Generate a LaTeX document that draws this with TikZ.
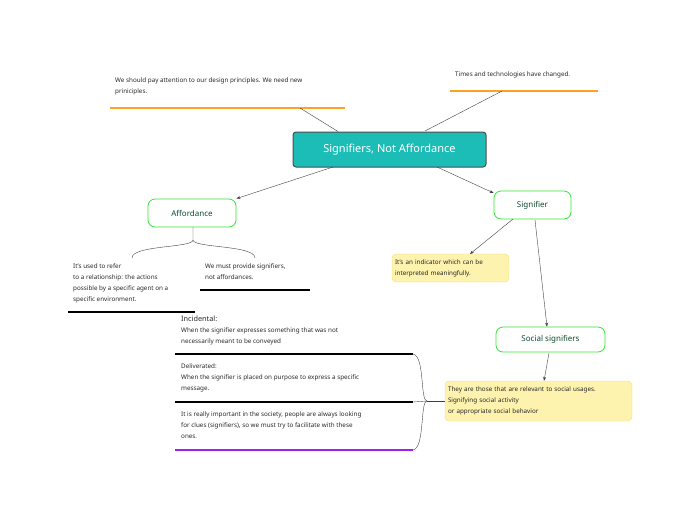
\documentclass[tikz,border=0pt]{standalone}
\usepackage{fontspec}
\setmainfont{Noto Sans}
\usetikzlibrary{arrows.meta}
\definecolor{teal1}{HTML}{1CBDB7}
\definecolor{dgreen}{HTML}{0D4A2E}
\definecolor{lgreen}{HTML}{33E633}
\definecolor{yel}{HTML}{FDF2AE}
\definecolor{yelb}{HTML}{F2DE80}
\definecolor{org}{HTML}{FFA21F}
\definecolor{purp}{HTML}{A020F0}
\begin{document}
\begin{tikzpicture}[x=1pt,y=-1pt,
 txt/.style={font=\fontsize{6.3}{11}\selectfont, align=left, anchor=north west, inner sep=0pt, text=black!85},
 topic/.style={draw=lgreen, line width=0.8pt, rounded corners=7pt, fill=white, text=dgreen, font=\fontsize{8}{10}\selectfont\bfseries, inner sep=0pt},
 callout/.style={fill=yel, draw=yelb, rounded corners=4pt, font=\fontsize{6.3}{11}\selectfont, align=left, inner sep=0pt, text=black!85},
 conn/.style={draw=black!75, line width=0.4pt},
 arr/.style={conn, -{Stealth[length=4pt,width=3pt]}}]
\useasboundingbox (0,0) rectangle (697,520);
% central
\node[fill=teal1, draw=black!70, line width=1pt, rounded corners=3pt, minimum width=193pt, minimum height=35pt, text=white, font=\fontsize{11}{13}\selectfont\bfseries] (c) at (389.5,149.5) {Signifiers, Not Affordance};
\node[topic, minimum width=88pt, minimum height=28pt] (aff) at (192,213) {Affordance};
\node[topic, minimum width=77pt, minimum height=28pt] (sig) at (532.5,205) {Signifier};
\node[topic, minimum width=109pt, minimum height=25pt] (soc) at (550.5,339.5) {Social signifiers};
% top texts
\node[txt] (tl) at (115,78) {We should pay attention to our design principles. We need new\\priniciples.};
\coordinate (tlA) at (110,108); \coordinate (tlB) at (345,108); \coordinate (tlC) at (300,108);
\draw[org, line width=1.2pt] (tlA) -- (tlB);
\draw[conn] (tlC) -- (c.north west -| 338,0);
\node[txt] (tr) at (455,72) {Times and technologies have changed.};
\coordinate (trA) at (450,91); \coordinate (trB) at (598,91); \coordinate (trC) at (502,91);
\draw[org, line width=1.2pt] (trA) -- (trB);
\draw[conn] (trC) -- (425,131);
% arrows from center
\draw[arr] (333,167) -- (aff.north east);
\draw[arr] (437,167) -- (sig.west |- 0,193);
% affordance brace
\coordinate (b0) at (193,227); \coordinate (bL) at (132,258); \coordinate (bR) at (255,258);
\draw[conn] (b0) -- (193,240) .. controls (193,248) and (132,245) .. (bL);
\draw[conn] (193,240) .. controls (193,248) and (255,245) .. (bR);
\node[txt] (al) at (73,263) {It's used to refer\\to a relationship: the actions\\possible by a specific agent on a\\specific environment.};
\draw[black, line width=1.2pt] (68,312) -- (195,312);
\node[txt] (ar) at (205,263) {We must provide signifiers,\\not affordances.};
\draw[black, line width=1.2pt] (200,290) -- (310,290);
% signifier children
\node[callout, minimum width=117pt, minimum height=28pt, text width=111pt] (ind) at (450.5,268) {It's an indicator which can be\\interpreted meaningfully.};
\draw[arr] (513,219) -- (470,254);
\draw[arr] (535,220) -- (soc.north -| 547,0);
\node[callout, minimum width=187pt, minimum height=40pt, text width=181pt] (they) at (538.5,401) {They are those that are relevant to social usages.\\Signifying social activity\\or appropriate social behavior};
\draw[arr] (549,353) -- (they.north -| 544,0);
% right brace
\draw[conn] (they.west) -- (427,401);
\draw[conn] (427,401) .. controls (420,401) and (425,356) .. (413,354);
\draw[conn] (427,401) .. controls (420,401) and (425,448) .. (413,450);
\draw[conn] (427,401) -- (413,402);
\node[txt] (i1) at (181,316) {\textbf{\fontsize{7.3}{11}\selectfont Incidental:}\\When the signifier expresses something that was not\\necessarily meant to be conveyed};
\draw[black, line width=1.2pt] (175,354) -- (413,354);
\node[txt] (i2) at (181,364) {\textbf{Deliverated}:\\When the signifier is placed on purpose to express a specific\\message.};
\draw[black, line width=1.2pt] (175,402) -- (413,402);
\node[txt] (i3) at (181,412) {It is really important in the society, people are always looking\\for clues (signifiers), so we must try to facilitate with these\\ones.};
\draw[purp, line width=1.2pt] (175,450) -- (413,450);
\end{tikzpicture}
\end{document}
